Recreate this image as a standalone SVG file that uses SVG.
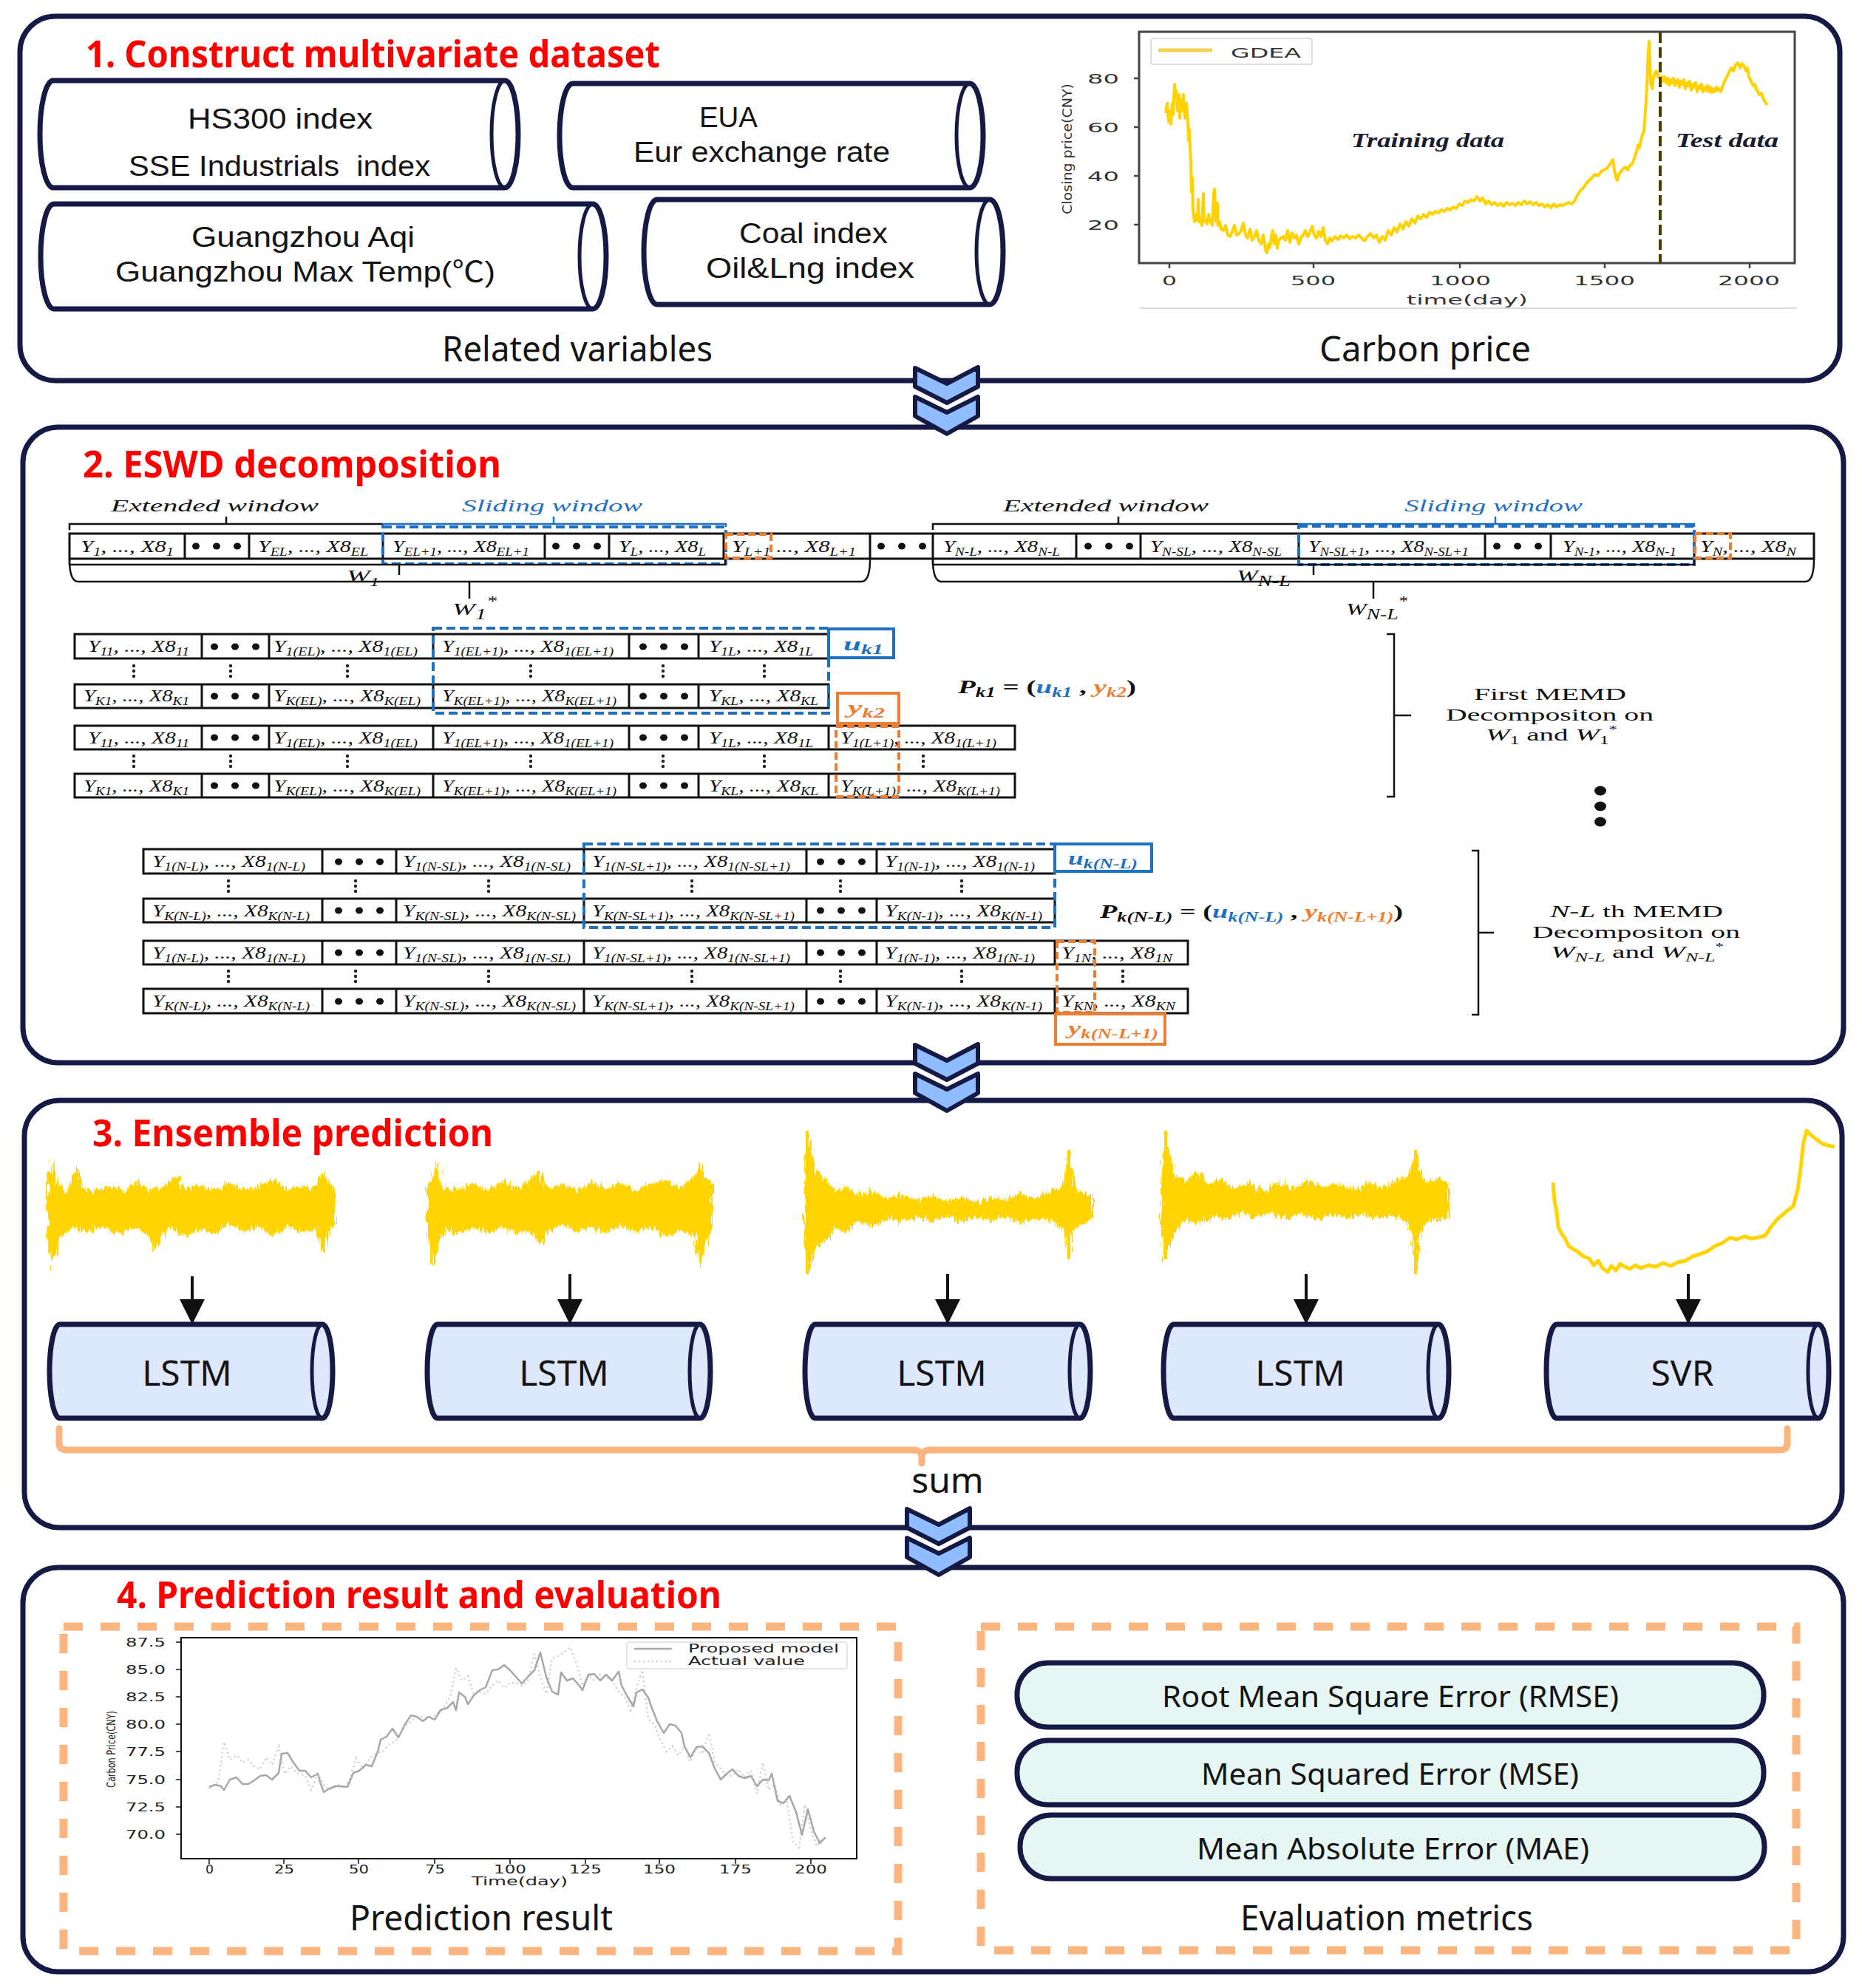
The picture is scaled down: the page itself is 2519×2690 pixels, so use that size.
<svg xmlns="http://www.w3.org/2000/svg" width="2519" height="2690" viewBox="0 0 2519 2690">
<style>
.sec{fill:none;stroke:#151a45;stroke-width:7}
.cyl{fill:#fff;stroke:#151a45;stroke-width:7;stroke-linejoin:round}
.cylb{fill:#dde8fc}
.cin{fill:none;stroke:#151a45;stroke-width:5}
.ttl{font-family:"Noto Sans","Liberation Sans",sans-serif;font-weight:bold;font-size:50px;fill:#ff0000}
.lb{font-family:"Noto Sans","Liberation Sans","Noto Sans CJK SC",sans-serif;font-size:40px;fill:#141414}
.lc{font-family:"Liberation Sans","Noto Sans CJK SC",sans-serif;font-size:39px;fill:#141414}
.big{font-family:"Noto Sans","Liberation Sans",sans-serif;font-size:48px;fill:#141414}
.it{font-family:"Liberation Serif",serif;font-style:italic;font-size:24px;fill:#111}
.s{font-size:16px}
.row{fill:#fff;stroke:#111;stroke-width:3}
.ln{fill:none;stroke:#111;stroke-width:3}
.br{fill:none;stroke:#111;stroke-width:2.5}
.bd{fill:none;stroke:#1f70c1;stroke-width:4;stroke-dasharray:12 6}
.bs{fill:none;stroke:#1f70c1;stroke-width:4}
.bt{fill:none;stroke:#1f70c1;stroke-width:2.5}
.od{fill:none;stroke:#ed7d31;stroke-width:4;stroke-dasharray:10 5}
.os{fill:none;stroke:#ed7d31;stroke-width:4}
.pf{font-family:"Liberation Serif",serif;font-weight:bold;font-size:26px;fill:#111}
.ps{font-size:18px}
.blu{fill:#1f70c1}
.org{fill:#ed7d31}
.mm{font-family:"Liberation Serif",serif;font-size:24px;fill:#111}
.ax{font-family:"DejaVu Sans",sans-serif;font-size:18px;fill:#333}
.ax2{font-family:"DejaVu Sans",sans-serif;font-size:16px;fill:#222}
.chv{fill:#8fbdff;stroke:#151a45;stroke-width:6;stroke-linejoin:round}
.wave{fill:#ffd400;filter:url(#jag)}
.arr{stroke:#111;stroke-width:4}
.met{fill:#e6f6f3;stroke:#151a45;stroke-width:7}
.odash{fill:none;stroke:#fdb57f;stroke-width:11;stroke-dasharray:26 24}
</style>
<defs>
<filter id="jag" x="-10%" y="-40%" width="120%" height="180%" color-interpolation-filters="sRGB">
<feTurbulence type="fractalNoise" baseFrequency="0.4 0.05" numOctaves="2" seed="7" result="n"/>
<feDisplacementMap in="SourceGraphic" in2="n" scale="17" xChannelSelector="R" yChannelSelector="G"/>
</filter>
<g id="chev"><polygon class="chv" points="0,1 43,22 85,0 85,26 43,48 0,26"/><polygon class="chv" points="0,40 43,61 85,40 85,66 43,90 0,66"/></g>
<g id="d3" fill="#111"><ellipse cx="-28" cy="0" rx="5" ry="4.5"/><ellipse cx="0" cy="0" rx="5" ry="4.5"/><ellipse cx="28" cy="0" rx="5" ry="4.5"/></g>
<g id="vd" fill="#222"><circle cx="0" cy="-7" r="2.2"/><circle cx="0" cy="0" r="2.2"/><circle cx="0" cy="7" r="2.2"/></g>
</defs>
<rect width="2519" height="2690" fill="#fff"/>

<!-- ===== Section 1 ===== -->
<g id="sec1">
<rect class="sec" x="27" y="22" width="2462" height="493" rx="48"/>
<text class="ttl" x="116" y="91" textLength="777" lengthAdjust="spacingAndGlyphs">1. Construct multivariate dataset</text>
<g id="cyl-hs300">
<path class="cyl" d="M72,109 H683 A18,72.5 0 0 1 683,254 H72 A18,72.5 0 0 1 72,109 Z"/>
<path class="cin" d="M683,109 A18,72.5 0 0 0 683,254"/>
<text class="lc" x="254" y="174" textLength="250" lengthAdjust="spacingAndGlyphs">HS300 index</text>
<text class="lc" x="174" y="238" textLength="408" lengthAdjust="spacingAndGlyphs" xml:space="preserve">SSE Industrials  index</text>
</g>
<g id="cyl-eua">
<path class="cyl" d="M775,113 H1312 A18,70.5 0 0 1 1312,254 H775 A18,70.5 0 0 1 775,113 Z"/>
<path class="cin" d="M1312,113 A18,70.5 0 0 0 1312,254"/>
<text class="lc" x="946" y="172" textLength="79" lengthAdjust="spacingAndGlyphs">EUA</text>
<text class="lc" x="857" y="219" textLength="347" lengthAdjust="spacingAndGlyphs">Eur exchange rate</text>
</g>
<g id="cyl-gz">
<path class="cyl" d="M73,276 H802 A18,71 0 0 1 802,418 H73 A18,71 0 0 1 73,276 Z"/>
<path class="cin" d="M802,276 A18,71 0 0 0 802,418"/>
<text class="lc" x="259" y="334" textLength="302" lengthAdjust="spacingAndGlyphs">Guangzhou Aqi</text>
<text class="lc" x="156" y="381" textLength="514" lengthAdjust="spacingAndGlyphs">Guangzhou Max Temp(℃)</text>
</g>
<g id="cyl-coal">
<path class="cyl" d="M889,270 H1339 A18,71 0 0 1 1339,412 H889 A18,71 0 0 1 889,270 Z"/>
<path class="cin" d="M1339,270 A18,71 0 0 0 1339,412"/>
<text class="lc" x="1000" y="329" textLength="201" lengthAdjust="spacingAndGlyphs">Coal index</text>
<text class="lc" x="955" y="376" textLength="282" lengthAdjust="spacingAndGlyphs">Oil&amp;Lng index</text>
</g>
<text class="big" x="598" y="489" textLength="366" lengthAdjust="spacingAndGlyphs">Related variables</text>

<g id="chart-carbon">
<rect x="1541" y="43" width="887" height="313" fill="#fff" stroke="#444" stroke-width="3"/>
<path d="M1534,106H1541M1534,172H1541M1534,238H1541M1534,304H1541M1582,356V363M1777,356V363M1975,356V363M2171,356V363M2367,356V363" stroke="#444" stroke-width="2.5"/>
<text class="ax" x="1471" y="113" font-size="20" textLength="43" lengthAdjust="spacingAndGlyphs">80</text>
<text class="ax" x="1471" y="179" font-size="20" textLength="43" lengthAdjust="spacingAndGlyphs">60</text>
<text class="ax" x="1471" y="245" font-size="20" textLength="43" lengthAdjust="spacingAndGlyphs">40</text>
<text class="ax" x="1471" y="311" font-size="20" textLength="43" lengthAdjust="spacingAndGlyphs">20</text>
<text class="ax" x="1572" y="386" font-size="20" textLength="20" lengthAdjust="spacingAndGlyphs">0</text>
<text class="ax" x="1746" y="386" font-size="20" textLength="61" lengthAdjust="spacingAndGlyphs">500</text>
<text class="ax" x="1934" y="386" font-size="20" textLength="83" lengthAdjust="spacingAndGlyphs">1000</text>
<text class="ax" x="2129" y="386" font-size="20" textLength="83" lengthAdjust="spacingAndGlyphs">1500</text>
<text class="ax" x="2324" y="386" font-size="20" textLength="84" lengthAdjust="spacingAndGlyphs">2000</text>
<text class="ax" x="1903" y="412" font-size="20" textLength="164" lengthAdjust="spacingAndGlyphs">time(day)</text>
<text class="ax" transform="translate(1450,290) rotate(-90)" font-size="22" textLength="177" lengthAdjust="spacingAndGlyphs">Closing price(CNY)</text>
<line x1="1541" y1="417" x2="2430" y2="417" stroke="#d0d0d0" stroke-width="1.5"/>
<polyline fill="none" stroke="#ffd200" stroke-width="4" stroke-linejoin="round" points="1577,153 1579,140 1581,165 1582,150 1584,168 1586,140 1587,155 1589,114 1590,130 1591,122 1593,150 1595,128 1596,160 1598,135 1600,150 1601,128 1603,160 1605,140 1607,165 1608,190 1609,175 1611,222 1612,260 1613,240 1614,285 1616,300 1618,290 1620,298 1621,270 1622,300 1624,296 1626,305 1628,262 1629,300 1631,298 1633,303 1635,290 1636,300 1638,298 1640,305 1642,262 1643,256 1645,300 1647,275 1648,305 1650,300 1652,310 1655,312 1658,305 1661,318 1664,320 1667,314 1670,305 1673,318 1676,316 1679,312 1682,302 1685,318 1688,322 1691,310 1694,325 1697,320 1700,312 1703,325 1706,330 1709,318 1712,338 1714,342 1716,330 1718,335 1720,320 1722,312 1724,330 1726,318 1728,336 1730,325 1733,322 1736,320 1739,325 1742,312 1745,328 1748,315 1751,322 1754,318 1757,330 1760,322 1763,318 1766,312 1769,320 1772,315 1775,306 1778,318 1781,322 1784,313 1787,320 1790,308 1793,325 1796,330 1799,322 1802,326 1806,320 1810,324 1814,319 1818,322 1822,318 1826,323 1830,320 1834,322 1838,318 1842,322 1846,326 1850,320 1854,316 1858,322 1862,318 1866,328 1870,320 1874,325 1878,312 1882,318 1886,308 1890,314 1894,303 1898,310 1902,300 1906,306 1910,296 1914,302 1918,292 1922,296 1926,290 1930,294 1934,287 1938,290 1942,286 1946,288 1950,284 1954,286 1958,282 1962,284 1966,280 1970,282 1974,276 1978,278 1982,272 1986,274 1990,270 1994,272 1998,266 2002,272 2006,268 2010,276 2014,272 2018,277 2022,274 2026,278 2030,275 2034,279 2038,274 2042,277 2046,275 2050,278 2054,274 2058,277 2062,272 2066,276 2070,273 2074,277 2078,274 2082,278 2086,276 2090,280 2094,277 2098,281 2102,276 2106,280 2110,277 2114,278 2118,276 2122,274 2126,276 2130,272 2134,264 2138,258 2142,254 2146,248 2150,244 2154,240 2158,236 2162,238 2166,232 2170,230 2174,228 2178,222 2182,216 2184,230 2186,240 2188,244 2190,236 2193,232 2196,228 2199,226 2202,230 2205,224 2208,222 2211,214 2214,205 2216,196 2218,200 2220,190 2222,182 2224,178 2226,150 2228,118 2229,90 2230,70 2231,56 2232,80 2233,110 2235,120 2237,104 2239,100 2241,96 2243,104 2244,100"/>
<polyline fill="none" stroke="#ffd200" stroke-width="4" stroke-linejoin="round" points="2248,102 2250,110 2252,104 2254,112 2256,106 2258,115 2260,108 2262,112 2264,106 2266,116 2268,110 2270,108 2272,118 2274,110 2276,114 2278,108 2280,120 2282,112 2284,116 2286,110 2288,122 2290,114 2292,118 2294,112 2296,124 2298,116 2300,120 2302,114 2304,124 2306,118 2308,122 2310,116 2312,124 2314,118 2316,125 2318,120 2320,124 2322,118 2324,122 2326,120 2328,124 2330,118 2333,110 2336,104 2339,98 2342,92 2345,96 2348,88 2351,85 2354,92 2357,86 2360,90 2362,96 2364,92 2366,104 2368,108 2370,112 2372,116 2374,114 2376,120 2378,124 2380,128 2383,126 2385,132 2387,136 2389,140 2391,142"/>
<line x1="2246" y1="44" x2="2246" y2="356" stroke="#4a3c00" stroke-width="4" stroke-dasharray="14 6"/>
<rect x="1557" y="52" width="218" height="35" rx="3" fill="#fff" stroke="#d5d5d5" stroke-width="1.5"/>
<line x1="1567" y1="68" x2="1640" y2="68" stroke="#f3d250" stroke-width="5"/>
<text class="ax" x="1665" y="78" font-size="20" textLength="95" lengthAdjust="spacingAndGlyphs">GDEA</text>
<text x="1828" y="199" font-family="Liberation Serif" font-weight="bold" font-style="italic" font-size="27" fill="#1b1b2f" textLength="207" lengthAdjust="spacingAndGlyphs">Training data</text>
<text x="2267" y="199" font-family="Liberation Serif" font-weight="bold" font-style="italic" font-size="27" fill="#1b1b2f" textLength="139" lengthAdjust="spacingAndGlyphs">Test data</text>
</g>
<text class="big" x="1785" y="489" textLength="286" lengthAdjust="spacingAndGlyphs">Carbon price</text>
</g>

<!-- ===== Section 2 ===== -->
<g id="sec2">
<rect class="sec" x="31" y="578" width="2463" height="860" rx="48"/>
<text class="ttl" x="112" y="646" textLength="566" lengthAdjust="spacingAndGlyphs">2. ESWD decomposition</text>

<g id="row0">
<path class="br" d="M94,717 V709 H518 M306,709 V699"/>
<path class="br" d="M1262,717 V709 H1757 M1513,709 V699"/>
<path class="bt" d="M518,713 V709 H982 V713 M749,709 V699"/>
<path class="bt" d="M1757,713 V709 H2292 V713 M2023,709 V699"/>
<text class="it" x="150" y="692" textLength="281" lengthAdjust="spacingAndGlyphs">Extended window</text>
<text class="it blu" x="625" y="692" textLength="244" lengthAdjust="spacingAndGlyphs">Sliding window</text>
<text class="it" x="1357" y="692" textLength="278" lengthAdjust="spacingAndGlyphs">Extended window</text>
<text class="it blu" x="1900" y="692" textLength="241" lengthAdjust="spacingAndGlyphs">Sliding window</text>
<rect class="row" x="94" y="722" width="2360" height="34"/>
<path class="ln" d="M250,722V756M337,722V756M518,722V756M737,722V756M824,722V756M979,722V756M1177,722V756M1262,722V756M1456,722V756M1543,722V756M1757,722V756M2009,722V756M2098,722V756M2292,722V756"/>
<use href="#d3" x="293" y="739"/><use href="#d3" x="780" y="739"/><use href="#d3" x="1220" y="739"/><use href="#d3" x="1500" y="739"/><use href="#d3" x="2053" y="739"/>
<text class="it" x="109" y="747" textLength="126" lengthAdjust="spacingAndGlyphs">Y<tspan class="s" dy="5">1</tspan><tspan dy="-5">, ..., X8</tspan><tspan class="s" dy="5">1</tspan></text>
<text class="it" x="349" y="747" textLength="149" lengthAdjust="spacingAndGlyphs">Y<tspan class="s" dy="5">EL</tspan><tspan dy="-5">, ..., X8</tspan><tspan class="s" dy="5">EL</tspan></text>
<text class="it" x="531" y="747" textLength="185" lengthAdjust="spacingAndGlyphs">Y<tspan class="s" dy="5">EL+1</tspan><tspan dy="-5">, ..., X8</tspan><tspan class="s" dy="5">EL+1</tspan></text>
<text class="it" x="837" y="747" textLength="118" lengthAdjust="spacingAndGlyphs">Y<tspan class="s" dy="5">L</tspan><tspan dy="-5">, ..., X8</tspan><tspan class="s" dy="5">L</tspan></text>
<text class="it" x="990" y="747" textLength="168" lengthAdjust="spacingAndGlyphs">Y<tspan class="s" dy="5">L+1</tspan><tspan dy="-5"> ..., X8</tspan><tspan class="s" dy="5">L+1</tspan></text>
<text class="it" x="1276" y="747" textLength="158" lengthAdjust="spacingAndGlyphs">Y<tspan class="s" dy="5">N-L</tspan><tspan dy="-5">, ..., X8</tspan><tspan class="s" dy="5">N-L</tspan></text>
<text class="it" x="1556" y="747" textLength="178" lengthAdjust="spacingAndGlyphs">Y<tspan class="s" dy="5">N-SL</tspan><tspan dy="-5">, ..., X8</tspan><tspan class="s" dy="5">N-SL</tspan></text>
<text class="it" x="1770" y="747" textLength="217" lengthAdjust="spacingAndGlyphs">Y<tspan class="s" dy="5">N-SL+1</tspan><tspan dy="-5">, ..., X8</tspan><tspan class="s" dy="5">N-SL+1</tspan></text>
<text class="it" x="2114" y="747" textLength="154" lengthAdjust="spacingAndGlyphs">Y<tspan class="s" dy="5">N-1</tspan><tspan dy="-5">, ..., X8</tspan><tspan class="s" dy="5">N-1</tspan></text>
<text class="it" x="2300" y="747" textLength="130" lengthAdjust="spacingAndGlyphs">Y<tspan class="s" dy="5">N</tspan><tspan dy="-5">, ..., X8</tspan><tspan class="s" dy="5">N</tspan></text>
<rect class="bd" x="518" y="713" width="464" height="50"/>
<rect class="bd" x="1757" y="712" width="535" height="52"/>
<rect class="od" x="982" y="723" width="61" height="32"/>
<rect class="od" x="2293" y="722" width="48" height="33"/>
<path class="br" d="M94,757 V764 H981 V757 M540,764 V778"/>
<path class="br" d="M94,757 Q94,787 106,787 H1165 Q1177,787 1177,757 M635,787 V810"/>
<path class="br" d="M1262,757 V764 H2292 V757 M1777,764 V778"/>
<path class="br" d="M1262,757 Q1262,787 1274,787 H2442 Q2454,787 2454,757 M1858,787 V810"/>
<text class="it" x="469" y="787" font-size="28" textLength="44" lengthAdjust="spacingAndGlyphs">W<tspan class="s" font-size="20" dy="6">1</tspan></text>
<text class="it" x="612" y="832" font-size="28" textLength="60" lengthAdjust="spacingAndGlyphs">W<tspan font-size="20" dy="6">1</tspan><tspan font-size="18" dy="-18">*</tspan></text>
<text class="it" x="1673" y="787" font-size="28" textLength="73" lengthAdjust="spacingAndGlyphs">W<tspan font-size="20" dy="6">N-L</tspan></text>
<text class="it" x="1821" y="832" font-size="28" textLength="83" lengthAdjust="spacingAndGlyphs">W<tspan font-size="20" dy="6">N-L</tspan><tspan font-size="18" dy="-18">*</tspan></text>
</g>

<g id="matrix1">
<rect class="row" x="101" y="858" width="1020" height="33"/>
<rect class="row" x="101" y="926" width="1020" height="32"/>
<rect class="row" x="101" y="982" width="1272" height="32"/>
<rect class="row" x="101" y="1047" width="1272" height="32"/>
<path class="ln" d="M273,858V891M364,858V891M586,858V891M851,858V891M945,858V891 M273,926V958M364,926V958M586,926V958M851,926V958M945,926V958 M273,982V1014M364,982V1014M586,982V1014M851,982V1014M945,982V1014M1121,982V1014 M273,1047V1079M364,1047V1079M586,1047V1079M851,1047V1079M945,1047V1079M1121,1047V1079"/>
<use href="#d3" x="318" y="875"/><use href="#d3" x="898" y="875"/>
<use href="#d3" x="318" y="942"/><use href="#d3" x="898" y="942"/>
<use href="#d3" x="318" y="998"/><use href="#d3" x="898" y="998"/>
<use href="#d3" x="318" y="1063"/><use href="#d3" x="898" y="1063"/>
<use href="#vd" x="181" y="908"/><use href="#vd" x="312" y="908"/><use href="#vd" x="470" y="908"/><use href="#vd" x="718" y="908"/><use href="#vd" x="897" y="908"/><use href="#vd" x="1034" y="908"/>
<use href="#vd" x="181" y="1030"/><use href="#vd" x="312" y="1030"/><use href="#vd" x="470" y="1030"/><use href="#vd" x="718" y="1030"/><use href="#vd" x="897" y="1030"/><use href="#vd" x="1034" y="1030"/><use href="#vd" x="1249" y="1030"/>
<text class="it" x="119" y="882" textLength="137" lengthAdjust="spacingAndGlyphs">Y<tspan class="s" dy="5">11</tspan><tspan dy="-5">, ..., X8</tspan><tspan class="s" dy="5">11</tspan></text>
<text class="it" x="370" y="882" textLength="195" lengthAdjust="spacingAndGlyphs">Y<tspan class="s" dy="5">1(EL)</tspan><tspan dy="-5">, ..., X8</tspan><tspan class="s" dy="5">1(EL)</tspan></text>
<text class="it" x="598" y="882" textLength="232" lengthAdjust="spacingAndGlyphs">Y<tspan class="s" dy="5">1(EL+1)</tspan><tspan dy="-5">, ..., X8</tspan><tspan class="s" dy="5">1(EL+1)</tspan></text>
<text class="it" x="959" y="882" textLength="141" lengthAdjust="spacingAndGlyphs">Y<tspan class="s" dy="5">1L</tspan><tspan dy="-5">, ..., X8</tspan><tspan class="s" dy="5">1L</tspan></text>
<text class="it" x="113" y="949" textLength="143" lengthAdjust="spacingAndGlyphs">Y<tspan class="s" dy="5">K1</tspan><tspan dy="-5">, ..., X8</tspan><tspan class="s" dy="5">K1</tspan></text>
<text class="it" x="370" y="949" textLength="199" lengthAdjust="spacingAndGlyphs">Y<tspan class="s" dy="5">K(EL)</tspan><tspan dy="-5">, ..., X8</tspan><tspan class="s" dy="5">K(EL)</tspan></text>
<text class="it" x="598" y="949" textLength="236" lengthAdjust="spacingAndGlyphs">Y<tspan class="s" dy="5">K(EL+1)</tspan><tspan dy="-5">, ..., X8</tspan><tspan class="s" dy="5">K(EL+1)</tspan></text>
<text class="it" x="959" y="949" textLength="148" lengthAdjust="spacingAndGlyphs">Y<tspan class="s" dy="5">KL</tspan><tspan dy="-5">, ..., X8</tspan><tspan class="s" dy="5">KL</tspan></text>
<text class="it" x="119" y="1006" textLength="137" lengthAdjust="spacingAndGlyphs">Y<tspan class="s" dy="5">11</tspan><tspan dy="-5">, ..., X8</tspan><tspan class="s" dy="5">11</tspan></text>
<text class="it" x="370" y="1006" textLength="195" lengthAdjust="spacingAndGlyphs">Y<tspan class="s" dy="5">1(EL)</tspan><tspan dy="-5">, ..., X8</tspan><tspan class="s" dy="5">1(EL)</tspan></text>
<text class="it" x="598" y="1006" textLength="232" lengthAdjust="spacingAndGlyphs">Y<tspan class="s" dy="5">1(EL+1)</tspan><tspan dy="-5">, ..., X8</tspan><tspan class="s" dy="5">1(EL+1)</tspan></text>
<text class="it" x="959" y="1006" textLength="141" lengthAdjust="spacingAndGlyphs">Y<tspan class="s" dy="5">1L</tspan><tspan dy="-5">, ..., X8</tspan><tspan class="s" dy="5">1L</tspan></text>
<text class="it" x="1137" y="1006" textLength="211" lengthAdjust="spacingAndGlyphs">Y<tspan class="s" dy="5">1(L+1)</tspan><tspan dy="-5">, ..., X8</tspan><tspan class="s" dy="5">1(L+1)</tspan></text>
<text class="it" x="113" y="1071" textLength="143" lengthAdjust="spacingAndGlyphs">Y<tspan class="s" dy="5">K1</tspan><tspan dy="-5">, ..., X8</tspan><tspan class="s" dy="5">K1</tspan></text>
<text class="it" x="370" y="1071" textLength="199" lengthAdjust="spacingAndGlyphs">Y<tspan class="s" dy="5">K(EL)</tspan><tspan dy="-5">, ..., X8</tspan><tspan class="s" dy="5">K(EL)</tspan></text>
<text class="it" x="598" y="1071" textLength="236" lengthAdjust="spacingAndGlyphs">Y<tspan class="s" dy="5">K(EL+1)</tspan><tspan dy="-5">, ..., X8</tspan><tspan class="s" dy="5">K(EL+1)</tspan></text>
<text class="it" x="959" y="1071" textLength="148" lengthAdjust="spacingAndGlyphs">Y<tspan class="s" dy="5">KL</tspan><tspan dy="-5">, ..., X8</tspan><tspan class="s" dy="5">KL</tspan></text>
<text class="it" x="1137" y="1071" textLength="216" lengthAdjust="spacingAndGlyphs">Y<tspan class="s" dy="5">K(L+1)</tspan><tspan dy="-5">, ..., X8</tspan><tspan class="s" dy="5">K(L+1)</tspan></text>
<rect class="bd" x="586" y="850" width="535" height="115"/>
<rect class="bs" x="1121" y="851" width="88" height="39"/>
<text class="pf blu" font-style="italic" x="1141" y="880" textLength="54" lengthAdjust="spacingAndGlyphs">u<tspan class="ps" dy="5">k1</tspan></text>
<rect class="os" x="1133" y="938" width="83" height="41"/>
<text class="pf org" font-style="italic" x="1147" y="966" textLength="50" lengthAdjust="spacingAndGlyphs">y<tspan class="ps" dy="5">k2</tspan></text>
<rect class="od" x="1131" y="983" width="85" height="95"/>
<text class="pf" x="1296" y="938" textLength="241" lengthAdjust="spacingAndGlyphs"><tspan font-style="italic">P</tspan><tspan class="ps" font-style="italic" dy="5">k1</tspan><tspan dy="-5"> = (</tspan><tspan class="blu" font-style="italic">u</tspan><tspan class="ps blu" font-style="italic" dy="5">k1</tspan><tspan dy="-5"> , </tspan><tspan class="org" font-style="italic">y</tspan><tspan class="ps org" font-style="italic" dy="5">k2</tspan><tspan dy="-5">)</tspan></text>
</g>

<g id="matrix2">
<rect class="row" x="194" y="1149" width="1233" height="33"/>
<rect class="row" x="194" y="1216" width="1233" height="32"/>
<rect class="row" x="194" y="1273" width="1413" height="32"/>
<rect class="row" x="194" y="1338" width="1413" height="33"/>
<path class="ln" d="M436,1149V1182M536,1149V1182M790,1149V1182M1091,1149V1182M1186,1149V1182 M436,1216V1248M536,1216V1248M790,1216V1248M1091,1216V1248M1186,1216V1248 M436,1273V1305M536,1273V1305M790,1273V1305M1091,1273V1305M1186,1273V1305M1427,1273V1305 M436,1338V1371M536,1338V1371M790,1338V1371M1091,1338V1371M1186,1338V1371M1427,1338V1371"/>
<use href="#d3" x="486" y="1166"/><use href="#d3" x="1138" y="1166"/>
<use href="#d3" x="486" y="1232"/><use href="#d3" x="1138" y="1232"/>
<use href="#d3" x="486" y="1289"/><use href="#d3" x="1138" y="1289"/>
<use href="#d3" x="486" y="1355"/><use href="#d3" x="1138" y="1355"/>
<use href="#vd" x="309" y="1199"/><use href="#vd" x="481" y="1199"/><use href="#vd" x="661" y="1199"/><use href="#vd" x="936" y="1199"/><use href="#vd" x="1137" y="1199"/><use href="#vd" x="1301" y="1199"/>
<use href="#vd" x="309" y="1321"/><use href="#vd" x="481" y="1321"/><use href="#vd" x="661" y="1321"/><use href="#vd" x="936" y="1321"/><use href="#vd" x="1137" y="1321"/><use href="#vd" x="1301" y="1321"/><use href="#vd" x="1519" y="1321"/>
<text class="it" x="206" y="1173" textLength="207" lengthAdjust="spacingAndGlyphs">Y<tspan class="s" dy="5">1(N-L)</tspan><tspan dy="-5">, ..., X8</tspan><tspan class="s" dy="5">1(N-L)</tspan></text>
<text class="it" x="545" y="1173" textLength="227" lengthAdjust="spacingAndGlyphs">Y<tspan class="s" dy="5">1(N-SL)</tspan><tspan dy="-5">, ..., X8</tspan><tspan class="s" dy="5">1(N-SL)</tspan></text>
<text class="it" x="801" y="1173" textLength="268" lengthAdjust="spacingAndGlyphs">Y<tspan class="s" dy="5">1(N-SL+1)</tspan><tspan dy="-5">, ..., X8</tspan><tspan class="s" dy="5">1(N-SL+1)</tspan></text>
<text class="it" x="1197" y="1173" textLength="203" lengthAdjust="spacingAndGlyphs">Y<tspan class="s" dy="5">1(N-1)</tspan><tspan dy="-5">, ..., X8</tspan><tspan class="s" dy="5">1(N-1)</tspan></text>
<text class="it" x="206" y="1240" textLength="213" lengthAdjust="spacingAndGlyphs">Y<tspan class="s" dy="5">K(N-L)</tspan><tspan dy="-5">, ..., X8</tspan><tspan class="s" dy="5">K(N-L)</tspan></text>
<text class="it" x="545" y="1240" textLength="234" lengthAdjust="spacingAndGlyphs">Y<tspan class="s" dy="5">K(N-SL)</tspan><tspan dy="-5">, ..., X8</tspan><tspan class="s" dy="5">K(N-SL)</tspan></text>
<text class="it" x="801" y="1240" textLength="274" lengthAdjust="spacingAndGlyphs">Y<tspan class="s" dy="5">K(N-SL+1)</tspan><tspan dy="-5">, ..., X8</tspan><tspan class="s" dy="5">K(N-SL+1)</tspan></text>
<text class="it" x="1197" y="1240" textLength="213" lengthAdjust="spacingAndGlyphs">Y<tspan class="s" dy="5">K(N-1)</tspan><tspan dy="-5">, ..., X8</tspan><tspan class="s" dy="5">K(N-1)</tspan></text>
<text class="it" x="206" y="1297" textLength="207" lengthAdjust="spacingAndGlyphs">Y<tspan class="s" dy="5">1(N-L)</tspan><tspan dy="-5">, ..., X8</tspan><tspan class="s" dy="5">1(N-L)</tspan></text>
<text class="it" x="545" y="1297" textLength="227" lengthAdjust="spacingAndGlyphs">Y<tspan class="s" dy="5">1(N-SL)</tspan><tspan dy="-5">, ..., X8</tspan><tspan class="s" dy="5">1(N-SL)</tspan></text>
<text class="it" x="801" y="1297" textLength="268" lengthAdjust="spacingAndGlyphs">Y<tspan class="s" dy="5">1(N-SL+1)</tspan><tspan dy="-5">, ..., X8</tspan><tspan class="s" dy="5">1(N-SL+1)</tspan></text>
<text class="it" x="1197" y="1297" textLength="203" lengthAdjust="spacingAndGlyphs">Y<tspan class="s" dy="5">1(N-1)</tspan><tspan dy="-5">, ..., X8</tspan><tspan class="s" dy="5">1(N-1)</tspan></text>
<text class="it" x="1436" y="1297" textLength="150" lengthAdjust="spacingAndGlyphs">Y<tspan class="s" dy="5">1N</tspan><tspan dy="-5">, ..., X8</tspan><tspan class="s" dy="5">1N</tspan></text>
<text class="it" x="206" y="1362" textLength="213" lengthAdjust="spacingAndGlyphs">Y<tspan class="s" dy="5">K(N-L)</tspan><tspan dy="-5">, ..., X8</tspan><tspan class="s" dy="5">K(N-L)</tspan></text>
<text class="it" x="545" y="1362" textLength="234" lengthAdjust="spacingAndGlyphs">Y<tspan class="s" dy="5">K(N-SL)</tspan><tspan dy="-5">, ..., X8</tspan><tspan class="s" dy="5">K(N-SL)</tspan></text>
<text class="it" x="801" y="1362" textLength="274" lengthAdjust="spacingAndGlyphs">Y<tspan class="s" dy="5">K(N-SL+1)</tspan><tspan dy="-5">, ..., X8</tspan><tspan class="s" dy="5">K(N-SL+1)</tspan></text>
<text class="it" x="1197" y="1362" textLength="213" lengthAdjust="spacingAndGlyphs">Y<tspan class="s" dy="5">K(N-1)</tspan><tspan dy="-5">, ..., X8</tspan><tspan class="s" dy="5">K(N-1)</tspan></text>
<text class="it" x="1436" y="1362" textLength="154" lengthAdjust="spacingAndGlyphs">Y<tspan class="s" dy="5">KN</tspan><tspan dy="-5">, ..., X8</tspan><tspan class="s" dy="5">KN</tspan></text>
<rect class="bd" x="790" y="1142" width="637" height="113"/>
<rect class="bs" x="1427" y="1142" width="131" height="37"/>
<text class="pf blu" font-style="italic" x="1445" y="1170" textLength="94" lengthAdjust="spacingAndGlyphs">u<tspan class="ps" dy="5">k(N-L)</tspan></text>
<rect class="od" x="1430" y="1274" width="51" height="96"/>
<rect class="os" x="1428" y="1372" width="148" height="41"/>
<text class="pf org" font-style="italic" x="1445" y="1400" textLength="122" lengthAdjust="spacingAndGlyphs">y<tspan class="ps" dy="5">k(N-L+1)</tspan></text>
<text class="pf" x="1488" y="1242" textLength="410" lengthAdjust="spacingAndGlyphs"><tspan font-style="italic">P</tspan><tspan class="ps" font-style="italic" dy="5">k(N-L)</tspan><tspan dy="-5"> = (</tspan><tspan class="blu" font-style="italic">u</tspan><tspan class="ps blu" font-style="italic" dy="5">k(N-L)</tspan><tspan dy="-5"> , </tspan><tspan class="org" font-style="italic">y</tspan><tspan class="ps org" font-style="italic" dy="5">k(N-L+1)</tspan><tspan dy="-5">)</tspan></text>
</g>

<g id="memd1">
<path class="br" d="M1876,858 H1886 V1078 H1876 M1886,968 H1909"/>
<text class="mm" x="1994" y="947" textLength="206" lengthAdjust="spacingAndGlyphs">First MEMD</text>
<text class="mm" x="1956" y="975" textLength="281" lengthAdjust="spacingAndGlyphs">Decompositon on</text>
<text class="mm" x="2010" y="1002" textLength="178" lengthAdjust="spacingAndGlyphs"><tspan font-style="italic">W</tspan><tspan font-size="16" dy="5">1</tspan><tspan dy="-5"> and </tspan><tspan font-style="italic">W</tspan><tspan font-size="16" dy="5">1</tspan><tspan font-size="14" dy="-15">*</tspan></text>
</g>
<g id="vdots" fill="#111">
<ellipse cx="2165" cy="1070" rx="8" ry="6.5"/><ellipse cx="2165" cy="1091" rx="8" ry="6.5"/><ellipse cx="2165" cy="1112" rx="8" ry="6.5"/>
</g>
<g id="memd2">
<path class="br" d="M1991,1151 H2000 V1373 H1991 M2000,1262 H2021"/>
<text class="mm" x="2097" y="1241" textLength="234" lengthAdjust="spacingAndGlyphs"><tspan font-style="italic">N-L</tspan> th MEMD</text>
<text class="mm" x="2073" y="1269" textLength="281" lengthAdjust="spacingAndGlyphs">Decompositon on</text>
<text class="mm" x="2098" y="1296" textLength="234" lengthAdjust="spacingAndGlyphs"><tspan font-style="italic">W</tspan><tspan font-size="16" font-style="italic" dy="5">N-L</tspan><tspan dy="-5"> and </tspan><tspan font-style="italic">W</tspan><tspan font-size="16" font-style="italic" dy="5">N-L</tspan><tspan font-size="14" dy="-15">*</tspan></text>
</g>
</g>

<!-- ===== Section 3 ===== -->
<g id="sec3">
<rect class="sec" x="33" y="1489" width="2459" height="578" rx="48"/>
<text class="ttl" x="125" y="1551" textLength="542" lengthAdjust="spacingAndGlyphs">3. Ensemble prediction</text>
<g id="waves">
<polygon class="wave" points="64,1595 70,1570 76,1600 90,1612 105,1580 112,1608 130,1612 150,1604 170,1612 185,1598 200,1610 220,1606 240,1590 248,1610 270,1603 290,1612 310,1600 330,1610 350,1606 370,1596 390,1610 410,1604 425,1608 437,1587 445,1600 453,1605 453,1660 445,1665 437,1700 428,1662 410,1668 390,1658 370,1672 350,1660 330,1668 310,1656 290,1670 270,1662 250,1674 230,1660 209,1693 200,1668 180,1662 160,1672 140,1660 120,1668 100,1660 80,1675 70,1718 64,1665"/>
<polygon class="wave" points="578,1605 586,1595 591,1571 596,1605 620,1610 640,1600 660,1612 680,1598 700,1608 731,1585 740,1610 760,1602 780,1612 800,1598 820,1608 840,1600 860,1612 880,1602 900,1596 920,1608 940,1590 948,1575 955,1595 964,1600 964,1665 955,1680 948,1717 940,1672 920,1665 900,1672 880,1660 860,1668 840,1658 820,1670 800,1660 780,1666 760,1656 740,1668 731,1686 720,1664 700,1670 680,1660 660,1668 640,1660 620,1670 600,1662 591,1690 586,1715 578,1670"/>
<polygon class="wave" points="1089,1600 1092,1529 1098,1560 1104,1585 1115,1595 1130,1612 1145,1605 1160,1618 1180,1612 1200,1622 1220,1616 1240,1624 1260,1618 1280,1626 1300,1620 1320,1626 1340,1620 1360,1624 1380,1615 1400,1622 1420,1612 1435,1605 1442,1590 1446,1555 1450,1590 1460,1612 1478,1618 1478,1650 1460,1658 1450,1670 1446,1705 1442,1675 1435,1660 1420,1652 1400,1648 1380,1656 1360,1646 1340,1652 1320,1646 1300,1654 1280,1645 1260,1652 1240,1646 1220,1655 1200,1648 1180,1660 1160,1652 1145,1668 1130,1660 1115,1680 1104,1690 1098,1710 1092,1725 1089,1670"/>
<polygon class="wave" points="1571,1600 1576,1529 1582,1560 1590,1590 1605,1598 1620,1586 1635,1604 1650,1595 1670,1608 1690,1600 1710,1612 1730,1600 1750,1608 1770,1596 1790,1606 1810,1602 1830,1610 1850,1600 1870,1606 1890,1598 1905,1590 1912,1570 1915,1555 1919,1580 1930,1600 1945,1595 1960,1600 1960,1646 1945,1652 1930,1650 1919,1680 1915,1725 1911,1670 1900,1650 1880,1644 1860,1650 1840,1642 1820,1650 1800,1644 1780,1652 1760,1642 1740,1650 1720,1640 1700,1648 1680,1640 1660,1650 1640,1645 1620,1656 1605,1650 1590,1665 1582,1690 1576,1705 1571,1660"/>
<line x1="1092" y1="1530" x2="1092" y2="1724" stroke="#ffd400" stroke-width="4"/>
<line x1="1446" y1="1556" x2="1446" y2="1704" stroke="#ffd400" stroke-width="4"/>
<line x1="1577" y1="1530" x2="1577" y2="1704" stroke="#ffd400" stroke-width="4"/>
<line x1="1915" y1="1556" x2="1915" y2="1724" stroke="#ffd400" stroke-width="4"/>
<polyline fill="none" stroke="#ffd400" stroke-width="5" stroke-linejoin="round" points="2101,1600 2103,1625 2106,1640 2108,1660 2113,1670 2117,1675 2122,1686 2128,1690 2135,1694 2142,1700 2150,1703 2156,1712 2162,1706 2168,1716 2175,1721 2180,1713 2186,1719 2192,1710 2198,1714 2205,1717 2212,1712 2220,1716 2230,1712 2240,1714 2250,1709 2260,1713 2270,1708 2280,1706 2290,1700 2300,1697 2310,1693 2320,1686 2330,1682 2340,1675 2350,1677 2360,1673 2370,1676 2380,1674 2388,1672 2396,1660 2404,1650 2410,1645 2418,1638 2426,1632 2432,1610 2436,1580 2440,1545 2444,1530 2450,1536 2458,1542 2466,1548 2474,1550 2482,1552"/>
</g>
<g id="lstm1">
<path class="cyl cylb" d="M81,1792 H436 A14,63.5 0 0 1 436,1919 H81 A14,63.5 0 0 1 81,1792 Z"/>
<path class="cin" d="M436,1792 A14,63.5 0 0 0 436,1919"/>
<text class="big" x="253" y="1875" text-anchor="middle">LSTM</text>
</g>
<g id="lstm2">
<path class="cyl cylb" d="M592,1792 H947 A14,63.5 0 0 1 947,1919 H592 A14,63.5 0 0 1 592,1792 Z"/>
<path class="cin" d="M947,1792 A14,63.5 0 0 0 947,1919"/>
<text class="big" x="763" y="1875" text-anchor="middle">LSTM</text>
</g>
<g id="lstm3">
<path class="cyl cylb" d="M1103,1792 H1461 A14,63.5 0 0 1 1461,1919 H1103 A14,63.5 0 0 1 1103,1792 Z"/>
<path class="cin" d="M1461,1792 A14,63.5 0 0 0 1461,1919"/>
<text class="big" x="1274" y="1875" text-anchor="middle">LSTM</text>
</g>
<g id="lstm4">
<path class="cyl cylb" d="M1588,1792 H1946 A14,63.5 0 0 1 1946,1919 H1588 A14,63.5 0 0 1 1588,1792 Z"/>
<path class="cin" d="M1946,1792 A14,63.5 0 0 0 1946,1919"/>
<text class="big" x="1759" y="1875" text-anchor="middle">LSTM</text>
</g>
<g id="svr">
<path class="cyl cylb" d="M2106,1792 H2460 A14,63.5 0 0 1 2460,1919 H2106 A14,63.5 0 0 1 2106,1792 Z"/>
<path class="cin" d="M2460,1792 A14,63.5 0 0 0 2460,1919"/>
<text class="big" x="2276" y="1875" text-anchor="middle">SVR</text>
</g>
<path d="M80,1933 V1953 Q80,1962 90,1962 H1236 Q1247,1962 1247,1972 V1980 M1247,1972 Q1247,1962 1258,1962 H2408 Q2418,1962 2418,1953 V1933" fill="none" stroke="#fbb47e" stroke-width="9" stroke-linecap="round"/>
<text class="big" x="1282" y="2020" text-anchor="middle" font-size="54">sum</text>
</g>

<!-- ===== Section 4 ===== -->
<g id="sec4">
<rect class="sec" x="31" y="2121" width="2463" height="547" rx="48"/>
<text class="ttl" x="158" y="2176" textLength="818" lengthAdjust="spacingAndGlyphs">4. Prediction result and evaluation</text>
<rect class="odash" x="86" y="2201" width="1129" height="439"/>
<rect class="odash" x="1327" y="2201" width="1103" height="438"/>
<g id="chart-pred">
<rect x="245" y="2216" width="914" height="299" fill="#fff" stroke="#111" stroke-width="2"/>
<path d="M238,2222H245M238,2259H245M238,2296H245M238,2333H245M238,2370H245M238,2408H245M238,2445H245M238,2482H245 M283,2515V2522M384,2515V2522M485,2515V2522M588,2515V2522M690,2515V2522M792,2515V2522M892,2515V2522M995,2515V2522M1097,2515V2522" stroke="#111" stroke-width="1.5"/>
<text class="ax2" x="170" y="2228" textLength="54" lengthAdjust="spacingAndGlyphs">87.5</text>
<text class="ax2" x="170" y="2265" textLength="54" lengthAdjust="spacingAndGlyphs">85.0</text>
<text class="ax2" x="170" y="2302" textLength="54" lengthAdjust="spacingAndGlyphs">82.5</text>
<text class="ax2" x="170" y="2339" textLength="54" lengthAdjust="spacingAndGlyphs">80.0</text>
<text class="ax2" x="170" y="2376" textLength="54" lengthAdjust="spacingAndGlyphs">77.5</text>
<text class="ax2" x="170" y="2414" textLength="54" lengthAdjust="spacingAndGlyphs">75.0</text>
<text class="ax2" x="170" y="2451" textLength="54" lengthAdjust="spacingAndGlyphs">72.5</text>
<text class="ax2" x="170" y="2488" textLength="54" lengthAdjust="spacingAndGlyphs">70.0</text>
<text class="ax2" x="278" y="2535" textLength="11" lengthAdjust="spacingAndGlyphs">0</text>
<text class="ax2" x="371" y="2535" textLength="27" lengthAdjust="spacingAndGlyphs">25</text>
<text class="ax2" x="472" y="2535" textLength="27" lengthAdjust="spacingAndGlyphs">50</text>
<text class="ax2" x="575" y="2535" textLength="27" lengthAdjust="spacingAndGlyphs">75</text>
<text class="ax2" x="668" y="2535" textLength="44" lengthAdjust="spacingAndGlyphs">100</text>
<text class="ax2" x="770" y="2535" textLength="44" lengthAdjust="spacingAndGlyphs">125</text>
<text class="ax2" x="870" y="2535" textLength="44" lengthAdjust="spacingAndGlyphs">150</text>
<text class="ax2" x="973" y="2535" textLength="44" lengthAdjust="spacingAndGlyphs">175</text>
<text class="ax2" x="1075" y="2535" textLength="44" lengthAdjust="spacingAndGlyphs">200</text>
<text class="ax2" x="638" y="2551" textLength="130" lengthAdjust="spacingAndGlyphs">Time(day)</text>
<text class="ax2" transform="translate(156,2419) rotate(-90)" textLength="104" lengthAdjust="spacingAndGlyphs">Carbon Price(CNY)</text>
<polyline fill="none" stroke="#cfcfcf" stroke-width="2.5" stroke-dasharray="2 4" points="283,2420 295,2411 303,2357 311,2381 320,2375 328,2385 336,2381 344,2390 352,2394 360,2378 368,2388 377,2363 385,2400 393,2390 401,2399 413,2403 421,2422 430,2400 438,2415 446,2422 458,2415 466,2420 474,2405 482,2379 491,2393 503,2376 511,2372 519,2369 527,2360 535,2356 548,2336 560,2326 568,2323 580,2324 588,2321 600,2311 609,2296 617,2257 625,2274 633,2268 641,2293 649,2289 657,2292 666,2281 674,2274 682,2284 690,2277 698,2277 706,2281 714,2274 723,2238 731,2269 739,2292 747,2244 755,2241 763,2236 771,2229 780,2251 788,2281 796,2266 804,2274 812,2266 820,2269 828,2274 837,2289 845,2296 853,2314 861,2284 869,2260 877,2326 885,2333 894,2356 902,2370 910,2363 918,2375 926,2363 934,2384 942,2366 950,2373 959,2345 967,2385 975,2393 983,2402 991,2403 999,2394 1007,2405 1016,2396 1024,2427 1032,2385 1040,2422 1048,2415 1056,2443 1064,2434 1073,2492 1081,2500 1089,2442 1097,2476 1105,2498 1113,2485"/>
<polyline fill="none" stroke="#a8a8a8" stroke-width="2.5" stroke-linejoin="round" points="283,2418 291,2415 299,2417 303,2422 311,2408 320,2405 328,2414 336,2414 344,2409 352,2403 360,2402 368,2408 377,2399 381,2373 389,2372 397,2385 405,2396 413,2396 421,2405 430,2400 434,2414 438,2425 446,2420 454,2417 462,2417 470,2418 478,2399 486,2396 495,2388 503,2390 511,2370 515,2354 523,2350 531,2339 539,2351 548,2333 556,2321 564,2323 572,2329 580,2323 588,2327 596,2314 605,2311 613,2303 617,2314 621,2290 629,2296 633,2306 641,2294 649,2287 657,2283 666,2260 674,2259 682,2253 690,2260 698,2269 706,2278 714,2269 723,2260 731,2236 739,2269 747,2289 755,2293 759,2263 767,2274 775,2271 784,2281 788,2287 796,2266 804,2265 812,2274 820,2266 828,2274 837,2262 841,2281 849,2296 857,2309 861,2290 869,2286 877,2297 881,2309 889,2329 898,2345 906,2333 914,2335 922,2345 926,2363 934,2378 942,2364 950,2363 959,2372 967,2393 975,2408 983,2400 991,2394 999,2403 1007,2406 1016,2403 1024,2417 1032,2408 1040,2409 1044,2400 1052,2437 1060,2440 1068,2430 1077,2452 1085,2483 1093,2448 1101,2478 1109,2494 1117,2486"/>
<rect x="848" y="2222" width="298" height="36" rx="3" fill="#fff" stroke="#dcdcdc" stroke-width="1.5"/>
<line x1="858" y1="2231" x2="909" y2="2231" stroke="#a8a8a8" stroke-width="2.5"/>
<line x1="858" y1="2248" x2="909" y2="2248" stroke="#cfcfcf" stroke-width="2.5" stroke-dasharray="2 4"/>
<text class="ax2" x="931" y="2236" font-size="13" textLength="204" lengthAdjust="spacingAndGlyphs">Proposed model</text>
<text class="ax2" x="931" y="2253" font-size="13" textLength="158" lengthAdjust="spacingAndGlyphs">Actual value</text>
</g>
<text class="big" x="473" y="2612" textLength="356" lengthAdjust="spacingAndGlyphs">Prediction result</text>
<g id="m-rmse">
<rect class="met" x="1376" y="2250" width="1010" height="87" rx="42"/>
<text class="lb" x="1572" y="2310" textLength="618" lengthAdjust="spacingAndGlyphs">Root Mean Square Error (RMSE)</text>
</g>
<g id="m-mse">
<rect class="met" x="1376" y="2355" width="1010" height="87" rx="42"/>
<text class="lb" x="1625" y="2415" textLength="511" lengthAdjust="spacingAndGlyphs">Mean Squared Error (MSE)</text>
</g>
<g id="m-mae">
<rect class="met" x="1380" y="2456" width="1007" height="86" rx="42"/>
<text class="lb" x="1619" y="2516" textLength="531" lengthAdjust="spacingAndGlyphs">Mean Absolute Error (MAE)</text>
</g>
<text class="big" x="1678" y="2612" textLength="396" lengthAdjust="spacingAndGlyphs">Evaluation metrics</text>
</g>

<!-- ===== Connectors ===== -->
<g id="connectors">
<use href="#chev" x="1238" y="497"/>
<use href="#chev" x="1238" y="1413"/>
<use href="#chev" x="1227" y="2041"/>
<g class="arr">
<line x1="260" y1="1727" x2="260" y2="1762"/><line x1="771" y1="1724" x2="771" y2="1762"/><line x1="1282" y1="1724" x2="1282" y2="1762"/><line x1="1767" y1="1724" x2="1767" y2="1762"/><line x1="2284" y1="1724" x2="2284" y2="1762"/>
</g>
<g fill="#111">
<polygon points="243,1758 277,1758 260,1792"/><polygon points="754,1758 788,1758 771,1792"/><polygon points="1265,1758 1299,1758 1282,1792"/><polygon points="1750,1758 1784,1758 1767,1792"/><polygon points="2267,1758 2301,1758 2284,1792"/>
</g>
</g>
</svg>
